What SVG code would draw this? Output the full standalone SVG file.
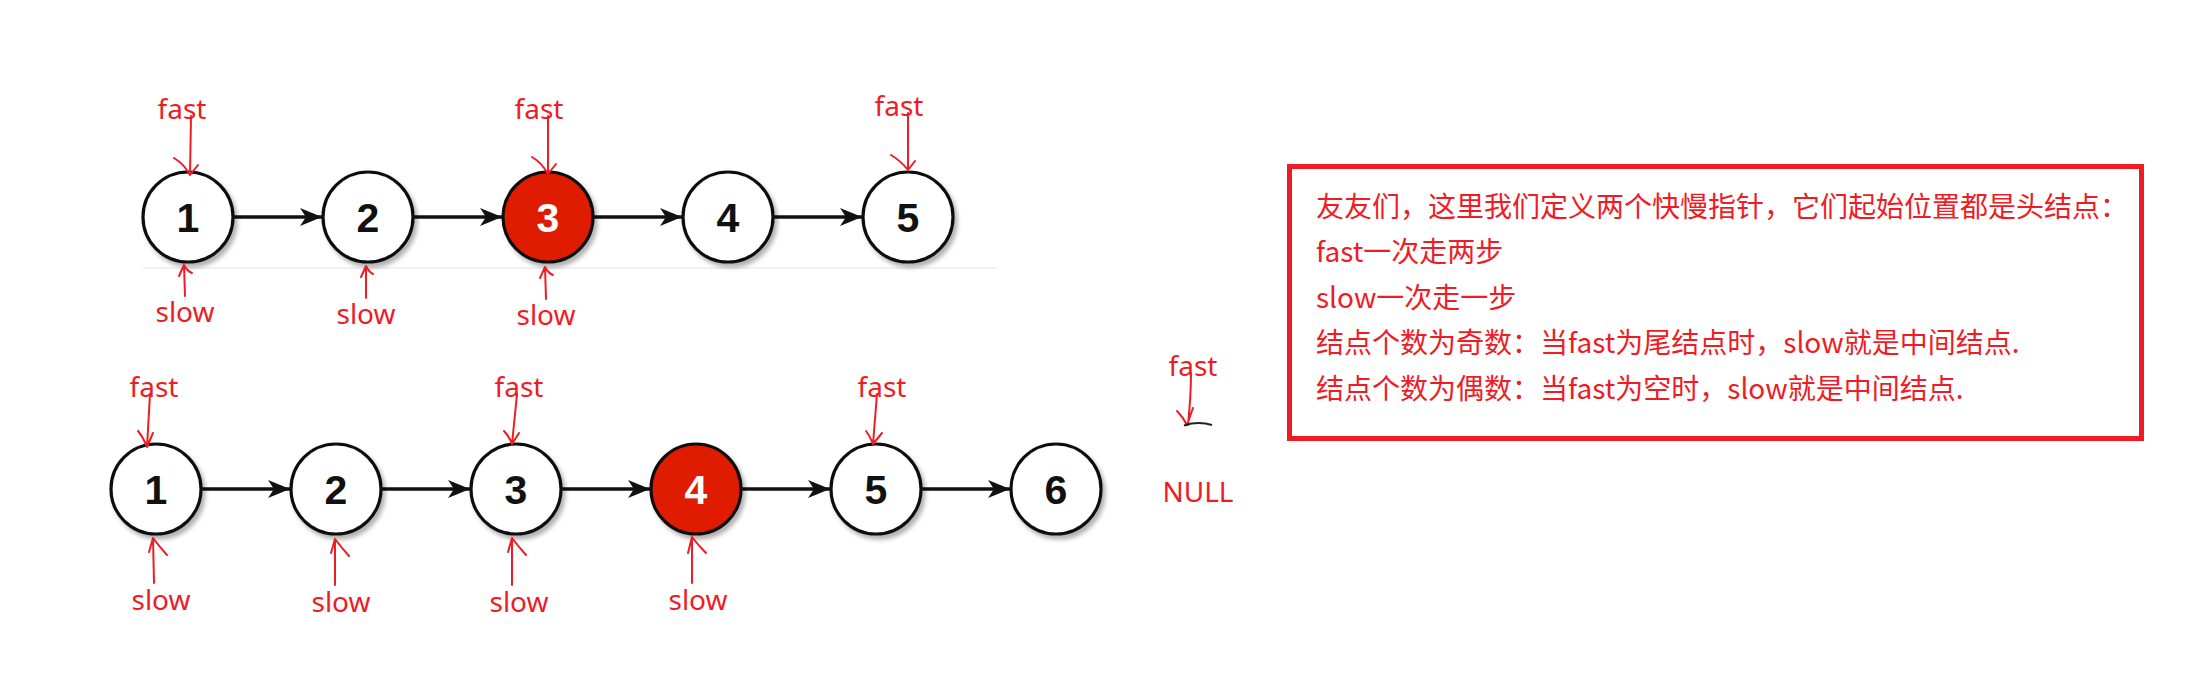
<svg xmlns="http://www.w3.org/2000/svg" width="2188" height="682" viewBox="0 0 2188 682">
<style>
.node{fill:#ffffff;stroke:#111111;stroke-width:3.2}
.hot{fill:#e01a06}
.num{font-family:"Liberation Sans",Arial,sans-serif;font-weight:bold;font-size:41px;fill:#111111;text-anchor:middle}
.numw{fill:#ffffff}
.link{stroke:#111111;stroke-width:3.4;fill:none;marker-end:url(#ah)}
.lbl{font-family:"Noto Sans","Noto Sans CJK SC",sans-serif;font-size:28px;fill:#ee1c25;text-anchor:middle}
.ptr{stroke:#ee1c25;stroke-width:2;fill:none;stroke-linecap:round;stroke-linejoin:round}
.note{font-family:"Noto Sans CJK SC","Noto Sans",sans-serif;font-size:28px;fill:#ee1c25}
</style>
<defs>
<filter id="sh" x="-30%" y="-30%" width="160%" height="160%">
<feDropShadow dx="3" dy="4" stdDeviation="2" flood-color="#000000" flood-opacity="0.3"/>
</filter>
<marker id="ah" markerWidth="26" markerHeight="22" refX="22" refY="11" orient="auto" markerUnits="userSpaceOnUse">
<path d="M0,2 L22,11 L0,20 L6,11 Z" fill="#111111"/>
</marker>
</defs>
<rect width="2188" height="682" fill="#ffffff"/>
<line x1="143" y1="268" x2="996" y2="268" stroke="#ececec" stroke-width="1.5"/>

<g id="connectors">
<line class="link" x1="234" y1="217" x2="322" y2="217"/>
<line class="link" x1="414" y1="217" x2="502" y2="217"/>
<line class="link" x1="594" y1="217" x2="682" y2="217"/>
<line class="link" x1="774" y1="217" x2="862" y2="217"/>
<line class="link" x1="202" y1="489" x2="290" y2="489"/>
<line class="link" x1="382" y1="489" x2="470" y2="489"/>
<line class="link" x1="562" y1="489" x2="650" y2="489"/>
<line class="link" x1="742" y1="489" x2="830" y2="489"/>
<line class="link" x1="922" y1="489" x2="1010" y2="489"/>
</g>

<g id="a1"><circle class="node" cx="188" cy="217" r="45" filter="url(#sh)"/><text class="num" x="188" y="232">1</text></g>
<g id="a2"><circle class="node" cx="368" cy="217" r="45" filter="url(#sh)"/><text class="num" x="368" y="232">2</text></g>
<g id="a3"><circle class="node hot" cx="548" cy="217" r="45" filter="url(#sh)"/><text class="num numw" x="548" y="232">3</text></g>
<g id="a4"><circle class="node" cx="728" cy="217" r="45" filter="url(#sh)"/><text class="num" x="728" y="232">4</text></g>
<g id="a5"><circle class="node" cx="908" cy="217" r="45" filter="url(#sh)"/><text class="num" x="908" y="232">5</text></g>

<g id="b1"><circle class="node" cx="156" cy="489" r="45" filter="url(#sh)"/><text class="num" x="156" y="504">1</text></g>
<g id="b2"><circle class="node" cx="336" cy="489" r="45" filter="url(#sh)"/><text class="num" x="336" y="504">2</text></g>
<g id="b3"><circle class="node" cx="516" cy="489" r="45" filter="url(#sh)"/><text class="num" x="516" y="504">3</text></g>
<g id="b4"><circle class="node hot" cx="696" cy="489" r="45" filter="url(#sh)"/><text class="num numw" x="696" y="504">4</text></g>
<g id="b5"><circle class="node" cx="876" cy="489" r="45" filter="url(#sh)"/><text class="num" x="876" y="504">5</text></g>
<g id="b6"><circle class="node" cx="1056" cy="489" r="45" filter="url(#sh)"/><text class="num" x="1056" y="504">6</text></g>

<g id="pointers">
<text class="lbl" x="182" y="119">fast</text>
<path class="ptr" d="M191,116 L190,175 M174,158 Q184,164 190,175 L198,165"/>
<text class="lbl" x="539" y="119">fast</text>
<path class="ptr" d="M548,116 L548,174 M532,157 Q542,163 548,174 L556,164"/>
<text class="lbl" x="899" y="116">fast</text>
<path class="ptr" d="M908,113 L908,170 M891,155 Q901,161 908,170 L915,161"/>

<text class="lbl" x="185" y="322">slow</text>
<path class="ptr" d="M185,296 L184,265 M179,276 L184,265 Q187,271 192,273"/>
<text class="lbl" x="366" y="324">slow</text>
<path class="ptr" d="M366,298 L366,266 M361,277 L366,266 Q369,272 373,274"/>
<text class="lbl" x="546" y="325">slow</text>
<path class="ptr" d="M546,299 L545,267 M540,278 L545,267 Q548,273 553,275"/>

<text class="lbl" x="154" y="397">fast</text>
<path class="ptr" d="M150,394 L147,447 M138,431 Q143,437 147,447 L153,433"/>
<text class="lbl" x="519" y="397">fast</text>
<path class="ptr" d="M517,394 L512,444 M504,431 Q509,436 512,444 L519,433"/>
<text class="lbl" x="882" y="397">fast</text>
<path class="ptr" d="M877,394 L873,444 M866,431 Q870,436 873,444 L882,433"/>

<text class="lbl" x="161" y="610">slow</text>
<path class="ptr" d="M154,583 L153,538 M149,552 L153,538 Q159,546 167,555"/>
<text class="lbl" x="341" y="612">slow</text>
<path class="ptr" d="M335,585 L335,539 M331,553 L335,539 Q341,547 349,556"/>
<text class="lbl" x="519" y="612">slow</text>
<path class="ptr" d="M512,585 L512,538 M508,552 L512,538 Q518,546 526,555"/>
<text class="lbl" x="698" y="610">slow</text>
<path class="ptr" d="M692,583 L692,537 M688,553 L692,537 Q698,545 706,553"/>

<text class="lbl" x="1193" y="376">fast</text>
<path class="ptr" d="M1191,373 Q1191,395 1188,425 M1177,411 Q1183,417 1187,425 L1193,408"/>
<path d="M1184,425.5 Q1198,421 1212,425" stroke="#222222" stroke-width="2" fill="none"/>
<text class="lbl" x="1198" y="502">NULL</text>
</g>

<g id="note">
<rect x="1289.5" y="166.5" width="852" height="272" fill="none" stroke="#ee1c25" stroke-width="5"/>
<text class="note" x="1316" y="217">友友们，这里我们定义两个快慢指针，它们起始位置都是头结点：</text>
<text class="note" x="1316" y="262">fast一次走两步</text>
<text class="note" x="1316" y="308">slow一次走一步</text>
<text class="note" x="1316" y="353">结点个数为奇数：当fast为尾结点时，slow就是中间结点.</text>
<text class="note" x="1316" y="399">结点个数为偶数：当fast为空时，slow就是中间结点.</text>
</g>
</svg>
